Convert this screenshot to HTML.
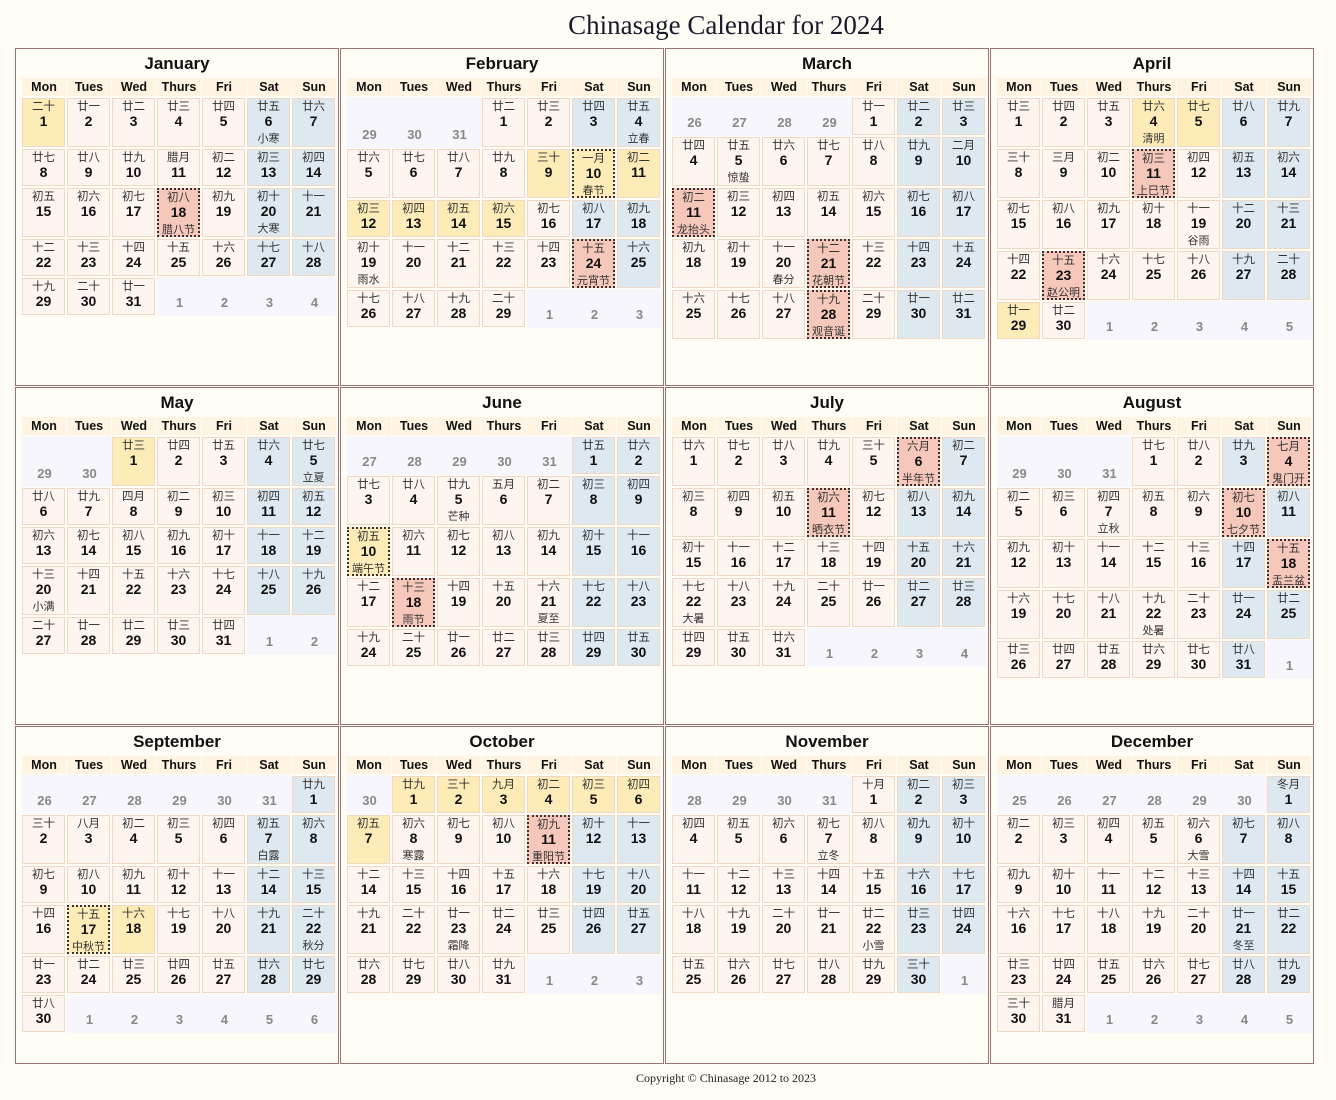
<!DOCTYPE html>
<html><head><meta charset="utf-8">
<style>
body{margin:0;width:1336px;height:1100px;background:#fffdf6;position:relative;overflow:hidden;font-family:"Liberation Sans","Noto Sans CJK SC",sans-serif}
#title{position:absolute;left:0;width:1452px;top:10px;text-align:center;font-family:"Liberation Serif","Noto Serif CJK SC",serif;font-size:27px;color:#1a1a2a}
#copy{position:absolute;left:0;width:1452px;top:1071px;text-align:center;font-family:"Liberation Serif",serif;font-size:12px;color:#222}
.panel{position:absolute;width:322px;height:336px;border:1px solid #9a7272;background:#fffdf5}
.mname{position:absolute;top:5px;left:0;width:100%;text-align:center;font-weight:bold;font-size:17px;color:#111}
.hd{position:absolute;top:29px;height:18px;background:#fff3e2;font-weight:bold;font-size:12.5px;text-align:center;line-height:18px;color:#111}
.c{position:absolute;box-sizing:border-box;border:1px solid #f0d9c4;background:#fff5f0;text-align:center;color:#111}
.c.we{background:#dde8f0}
.c.hol{background:#fdebb8}
.c.fp{background:#f6c8bc;border:2px dotted #3a3030}
.c.fy{background:#fdebb8;border:2px dotted #3a3030}
.c.oth{background:#f6f6fc;border:none;color:#888}
.lu{position:absolute;top:1px;left:0;width:100%;font-size:11.5px;color:#333;line-height:14px}
.dn{position:absolute;top:14px;left:0;width:100%;font-size:14px;font-weight:bold;line-height:17px}
.nt{position:absolute;top:33px;left:0;width:100%;font-size:11px;color:#333;line-height:14px}
.oth .dn{top:auto;bottom:5px;font-size:13px}
</style></head><body>
<div id="title">Chinasage Calendar for 2024</div>
<div id="copy">Copyright © Chinasage 2012 to 2023</div>
<script>
const monthNames=["January","February","March","April","May","June","July","August","September","October","November","December"];
const weekdays=["Mon","Tues","Wed","Thurs","Fri","Sat","Sun"];
const lunarStarts=[[2023,12,13,"冬月"],[2024,1,11,"腊月"],[2024,2,10,"一月"],[2024,3,10,"二月"],[2024,4,9,"三月"],[2024,5,8,"四月"],[2024,6,6,"五月"],[2024,7,6,"六月"],[2024,8,4,"七月"],[2024,9,3,"八月"],[2024,10,3,"九月"],[2024,11,1,"十月"],[2024,12,1,"冬月"],[2024,12,31,"腊月"]];
const notes={"1-6":"小寒","1-18":"腊八节","1-20":"大寒","2-4":"立春","2-10":"春节","2-19":"雨水","2-24":"元宵节","3-5":"惊蛰","3-11":"龙抬头","3-20":"春分","3-21":"花朝节","3-28":"观音诞","4-4":"清明","4-11":"上巳节","4-19":"谷雨","4-23":"赵公明","5-5":"立夏","5-20":"小满","6-5":"芒种","6-10":"端午节","6-18":"雨节","6-21":"夏至","7-6":"半年节","7-11":"晒衣节","7-22":"大暑","8-4":"鬼门开","8-7":"立秋","8-10":"七夕节","8-18":"盂兰盆","8-22":"处暑","9-7":"白露","9-17":"中秋节","9-22":"秋分","10-8":"寒露","10-11":"重阳节","10-23":"霜降","11-7":"立冬","11-22":"小雪","12-6":"大雪","12-21":"冬至"};
const pinkFest=["1-18","2-24","3-11","3-21","3-28","4-11","4-23","6-18","7-6","7-11","8-4","8-10","8-18","10-11"];
const yellowFest=["2-10","6-10","9-17"];
const holidays=["1-1","2-9","2-11","2-12","2-13","2-14","2-15","4-4","4-5","4-29","5-1","9-18","10-1","10-2","10-3","10-4","10-5","10-6","10-7"];
const digits=["","一","二","三","四","五","六","七","八","九","十"];
function lunarDay(n){if(n<=10)return "初"+digits[n];if(n<20)return "十"+digits[n-10];if(n==20)return "二十";if(n<30)return "廿"+digits[n-20];return "三十";}
const DAY=86400000;
function lunar(y,m,d){const t=Date.UTC(y,m-1,d);let s=lunarStarts[0];for(const L of lunarStarts){if(Date.UTC(L[0],L[1]-1,L[2])<=t)s=L;}
 const n=Math.round((t-Date.UTC(s[0],s[1]-1,s[2]))/DAY)+1;return n==1?s[3]:lunarDay(n);}
const PW=325,PH=339,X0=15,Y0=48,CP=45,CW=43,CX=6;
for(let m=0;m<12;m++){
 const p=document.createElement('div');p.className='panel';
 
 
 p.style.left=(X0+(m%4)*PW)+'px';p.style.top=(Y0+Math.floor(m/4)*PH)+'px';
 const t=document.createElement('div');t.className='mname';t.textContent=monthNames[m];
 
 
 p.appendChild(t);
 weekdays.forEach((w,i)=>{const h=document.createElement('div');h.className='hd';h.textContent=w;
  h.style.left=(CX+i*CP)+'px';h.style.width=(CW+1)+'px';
  
  
  p.appendChild(h);});
 const first=new Date(Date.UTC(2024,m,1)).getUTCDay();const off=(first+6)%7;
 const dim=new Date(Date.UTC(2024,m+1,0)).getUTCDate();
 const prevDim=new Date(Date.UTC(2024,m,0)).getUTCDate();
 const total=Math.ceil((off+dim)/7)*7;
 let y=49;
 for(let r=0;r<total/7;r++){
  let hasNote=false;
  for(let c=0;c<7;c++){const d=r*7+c-off+1;if(d>=1&&d<=dim&&notes[(m+1)+'-'+d])hasNote=true;}
  const rh=hasNote?51:39;
  for(let c=0;c<7;c++){
   const idx=r*7+c;const d=idx-off+1;
   const cell=document.createElement('div');cell.className='c';
   cell.style.left=(CX+c*CP)+'px';cell.style.top=y+'px';
   cell.style.width=(d>=1&&d<=dim?CW:CP)+'px';cell.style.height=(rh-2)+'px';
   if(d<1||d>dim){
    cell.classList.add('oth');cell.style.top=(y-1)+'px';cell.style.height=rh+'px';
    const num=d<1?prevDim+d:d-dim;
    cell.innerHTML='<div class="dn">'+num+'</div>';
    
    
   }else{
    const k=(m+1)+'-'+d;
    if(c>=5)cell.classList.add('we');
    if(holidays.includes(k))cell.classList.add('hol');
    if(pinkFest.includes(k))cell.classList.add('fp');
    if(yellowFest.includes(k))cell.classList.add('fy');
    let h='<div class="lu">'+lunar(2024,m+1,d)+'</div><div class="dn">'+d+'</div>';
    if(notes[k])h+='<div class="nt">'+notes[k]+'</div>';
    cell.innerHTML=h;
    
    
   }
   p.appendChild(cell);
  }
  y+=rh;
 }
 document.body.appendChild(p);
}
</script>
</body></html>
